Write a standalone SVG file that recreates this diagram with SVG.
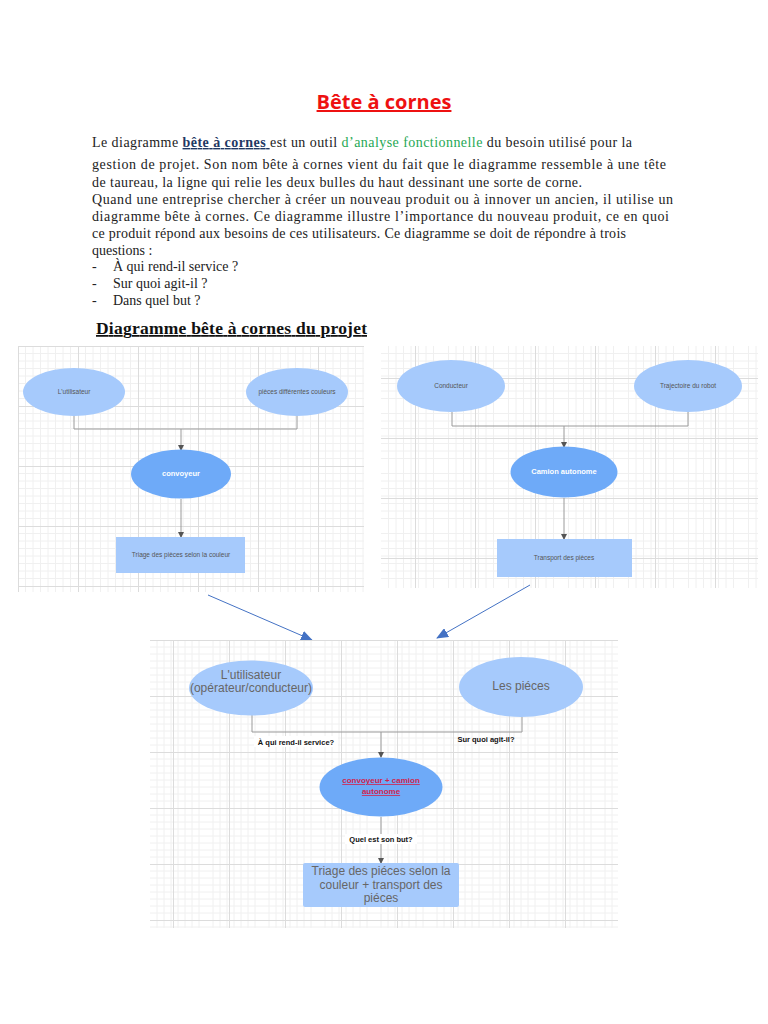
<svg xmlns="http://www.w3.org/2000/svg" width="768" height="1024" viewBox="0 0 768 1024">
<defs>
<pattern id="g1" x="18" y="346" width="60" height="60" patternUnits="userSpaceOnUse">
<path d="M7.5 0V60M15 0V60M22.5 0V60M30 0V60M37.5 0V60M45 0V60M52.5 0V60M0 7.5H60M0 15H60M0 22.5H60M0 30H60M0 37.5H60M0 45H60M0 52.5H60" stroke="#f0f0f0" stroke-width="1" fill="none"/>
<path d="M0.5 0V60M0 0.5H60" stroke="#dcdcdc" stroke-width="1" fill="none"/>
</pattern>
<pattern id="g2" x="381" y="346" width="60" height="60" patternUnits="userSpaceOnUse">
<path d="M7.5 0V60M15 0V60M22.5 0V60M30 0V60M37.5 0V60M45 0V60M52.5 0V60M0 7.5H60M0 15H60M0 22.5H60M0 30H60M0 37.5H60M0 45H60M0 52.5H60" stroke="#f0f0f0" stroke-width="1" fill="none"/>
<path d="M34.5 0V60M0 32.5H60" stroke="#dcdcdc" stroke-width="1" fill="none"/>
</pattern>
<pattern id="g3" x="150" y="640" width="56" height="56" patternUnits="userSpaceOnUse">
<path d="M7 0V56M14 0V56M21 0V56M28 0V56M35 0V56M42 0V56M49 0V56M0 7H56M0 14H56M0 21H56M0 28H56M0 35H56M0 42H56M0 49H56" stroke="#f0f0f0" stroke-width="1" fill="none"/>
<path d="M23.5 0V56M0 0.5H56" stroke="#dcdcdc" stroke-width="1" fill="none"/>
</pattern>
<marker id="sm" markerWidth="6" markerHeight="6" refX="5" refY="3" orient="auto" markerUnits="userSpaceOnUse">
<path d="M0 0L6 3L0 6Z" fill="#555"/>
</marker>
<marker id="big" markerWidth="12" markerHeight="10" refX="11" refY="5" orient="auto" markerUnits="userSpaceOnUse">
<path d="M0 0L12 5L0 10Z" fill="#4472c4"/>
</marker>
<style>
.body{font-family:"Liberation Serif","Times New Roman",serif;font-size:14px;fill:#222}
.light{fill:#a6cafc}
.dark{fill:#6eaaf8}
.conn{stroke:#9a9a9a;stroke-width:1;fill:none}
.t1{font-family:"Liberation Sans",Arial,sans-serif;font-size:6.5px;fill:#555;text-anchor:middle}
.t1w{font-family:"Liberation Sans",Arial,sans-serif;font-size:7.5px;font-weight:bold;fill:#fff;text-anchor:middle}
.t3{font-family:"Liberation Sans",Arial,sans-serif;font-size:12px;fill:#666;text-anchor:middle}
.lbl{font-family:"Liberation Sans",Arial,sans-serif;font-size:7.5px;font-weight:bold;fill:#111;text-anchor:middle}
</style>
</defs>
<rect width="768" height="1024" fill="#fff"/>

<g id="title">
<text x="384" y="109" text-anchor="middle" font-family="'Open Sans','Liberation Sans',sans-serif" font-weight="bold" font-size="20" fill="#ee1111" text-decoration="underline">Bête à cornes</text>
</g>

<g id="body-text">
<text class="body" x="92" y="147" textLength="540" lengthAdjust="spacing">Le diagramme <tspan fill="#1f3864" font-weight="bold" text-decoration="underline">bête à cornes </tspan>est un outil <tspan fill="#1fa855">d’analyse fonctionnelle</tspan> du besoin utilisé pour la</text>
<text class="body" x="92" y="169" textLength="574" lengthAdjust="spacing">gestion de projet.  Son nom bête à cornes vient du fait que le diagramme ressemble à une tête</text>
<text class="body" x="92" y="187" textLength="490" lengthAdjust="spacing">de taureau, la ligne qui relie les deux bulles du haut dessinant une sorte de corne.</text>
<text class="body" x="92" y="204" textLength="581" lengthAdjust="spacing">Quand une entreprise chercher à créer un nouveau produit ou à innover un ancien, il utilise un</text>
<text class="body" x="92" y="221" textLength="577" lengthAdjust="spacing">diagramme bête à cornes. Ce diagramme illustre l’importance du nouveau produit, ce en quoi</text>
<text class="body" x="92" y="238" textLength="534" lengthAdjust="spacing">ce produit répond aux besoins de ces utilisateurs. Ce diagramme se doit de répondre à trois</text>
<text class="body" x="92" y="255">questions :</text>
<text class="body" x="92" y="271">-</text><text class="body" x="113" y="271">À qui rend-il service ?</text>
<text class="body" x="92" y="288">-</text><text class="body" x="113" y="288">Sur quoi agit-il ?</text>
<text class="body" x="92" y="305">-</text><text class="body" x="113" y="305">Dans quel but ?</text>
<text x="96" y="334" font-family="'Liberation Serif','Times New Roman',serif" font-weight="bold" font-size="17.5" fill="#111" text-decoration="underline" textLength="271" lengthAdjust="spacing">Diagramme bête à cornes du projet</text>
</g>

<!-- Panel 1 -->
<rect x="18" y="346" width="346" height="246" fill="url(#g1)"/>
<g id="connectors-1">
<path class="conn" d="M74 416V429H297V416"/>
<path class="conn" d="M181 429V450" marker-end="url(#sm)"/>
<path class="conn" d="M181 499V537" marker-end="url(#sm)"/>
</g>
<g id="p1-user"><ellipse class="light" cx="74" cy="392" rx="51" ry="24"/><text class="t1" x="74" y="394">L'utilisateur</text></g>
<g id="p1-pieces"><ellipse class="light" cx="297" cy="392" rx="51" ry="24"/><text class="t1" x="297" y="394">pièces différentes couleurs</text></g>
<g id="p1-convoyeur"><ellipse class="dark" cx="181" cy="474" rx="50" ry="24.5"/><text class="t1w" x="181" y="476">convoyeur</text></g>
<g id="p1-triage"><rect class="light" x="116" y="537" width="129" height="36"/><text class="t1" x="181" y="557">Triage des pièces selon la couleur</text></g>

<!-- Panel 2 -->
<rect x="381" y="346" width="377" height="242" fill="url(#g2)"/>
<g id="connectors-2">
<path class="conn" d="M452 412V426H688V412"/>
<path class="conn" d="M564 426V447" marker-end="url(#sm)"/>
<path class="conn" d="M564 498V539" marker-end="url(#sm)"/>
</g>
<g id="p2-conducteur"><ellipse class="light" cx="451" cy="386" rx="54" ry="26"/><text class="t1" x="451" y="388">Conducteur</text></g>
<g id="p2-trajectoire"><ellipse class="light" cx="688" cy="386" rx="54" ry="26"/><text class="t1" x="688" y="388">Trajectoire du robot</text></g>
<g id="p2-camion"><ellipse class="dark" cx="564" cy="472" rx="53.5" ry="25.5"/><text class="t1w" x="564" y="474">Camion autonome</text></g>
<g id="p2-transport"><rect class="light" x="497" y="539" width="135" height="38"/><text class="t1" x="564" y="560">Transport des pièces</text></g>

<!-- Blue arrows -->
<g id="merge-arrows">
<line x1="208" y1="595" x2="312" y2="640" stroke="#4472c4" stroke-width="1" marker-end="url(#big)"/>
<line x1="530" y1="585" x2="437" y2="638" stroke="#4472c4" stroke-width="1" marker-end="url(#big)"/>
</g>

<!-- Panel 3 -->
<rect x="150" y="640" width="468" height="288" fill="url(#g3)"/>
<g id="connectors-3">
<path class="conn" d="M252 715V732H522V717"/>
<path class="conn" d="M381 732V757" marker-end="url(#sm)"/>
<path class="conn" d="M381 817V863" marker-end="url(#sm)"/>
<rect x="254" y="736" width="84" height="11" fill="#fff"/>
<text class="lbl" x="296" y="745">À qui rend-il service?</text>
<text class="lbl" x="486" y="742">Sur quoi agit-il?</text>
<rect x="345" y="834" width="72" height="10" fill="#fff"/>
<text class="lbl" x="381" y="842" font-size="7">Quel est son but?</text>
</g>
<g id="p3-user"><ellipse class="light" cx="251" cy="688" rx="62" ry="27.5"/><text class="t3" x="251" y="679">L'utilisateur</text><text class="t3" x="251" y="692">(opérateur/conducteur)</text></g>
<g id="p3-pieces"><ellipse class="light" cx="521" cy="687" rx="62" ry="30"/><text class="t3" x="521" y="690">Les piéces</text></g>
<g id="p3-centre"><ellipse class="dark" cx="381" cy="787" rx="61.5" ry="29.5"/>
<text x="381" y="783" text-anchor="middle" font-family="'Liberation Sans',Arial,sans-serif" font-size="8" font-weight="bold" fill="#d0244f" text-decoration="underline">convoyeur + camion</text>
<text x="381" y="794" text-anchor="middle" font-family="'Liberation Sans',Arial,sans-serif" font-size="8" font-weight="bold" fill="#d0244f" text-decoration="underline">autonome</text></g>
<g id="p3-triage"><rect class="light" x="303" y="863" width="156" height="44" rx="2"/>
<text class="t3" x="381" y="875">Triage des piéces selon la</text>
<text class="t3" x="381" y="889">couleur + transport des</text>
<text class="t3" x="381" y="902">piéces</text></g>
</svg>
